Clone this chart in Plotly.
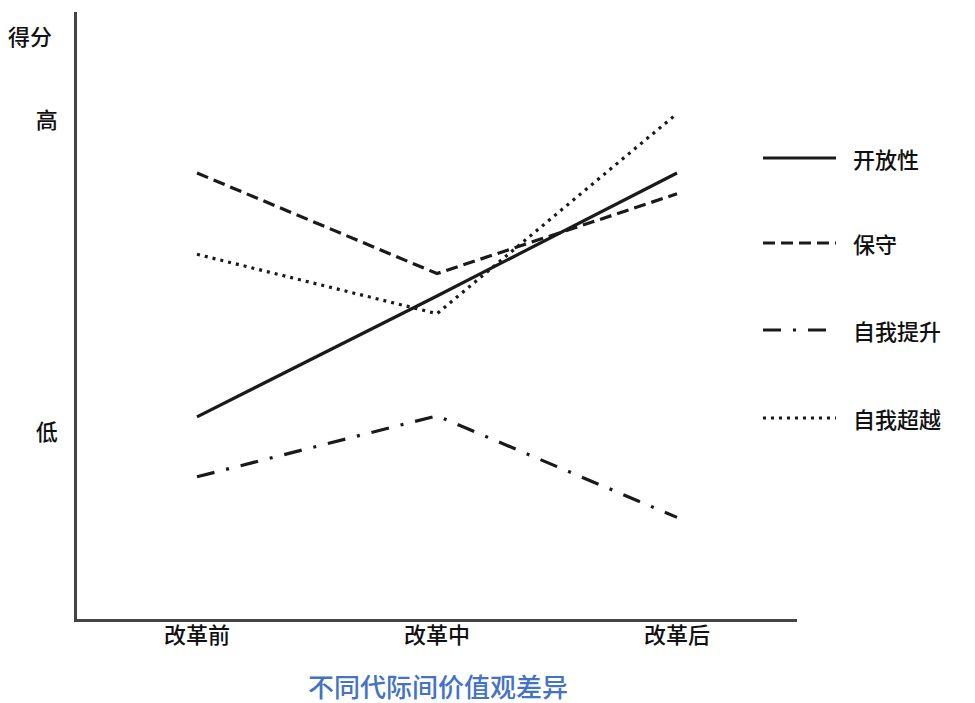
import plotly.graph_objects as go

# 数据
stages = ["改革前", "改革中", "改革后"]
openness = [2.30, 4.62, 6.98]
conservation = [6.98, 5.05, 6.58]
self_enhance = [1.15, 2.32, 0.37]
self_transcend = [5.42, 4.28, 8.12]

series_names = ["开放性", "保守", "自我提升", "自我超越"]
series_values = [openness, conservation, self_enhance, self_transcend]

y_tick_vals = [2, 8]
y_tick_text = ["低", "高"]

FONT = "Noto Sans CJK SC, Noto Sans, sans-serif"
W, H = 975, 703
L, R, T, B = 77, 797, 12, 619

dash_styles = ["solid", "12px,6px", "18px,12px,3px,12px", "3px,5px"]


def px(x, y):
    # pixel -> paper coordinates
    return (x - L) / (R - L), (B - y) / (B - T)


fig = go.Figure()

for name, vals, dash in zip(series_names, series_values, dash_styles):
    fig.add_trace(go.Scatter(
        x=[0, 1, 2], y=vals, mode="lines", name=name,
        line=dict(color="#1a1a1a", width=3.2, dash=dash),
        showlegend=False,
    ))

# 图例 (手工绘制，线段更长、间距更大)
legend_y = [158, 243, 330, 418]
for name, dash, ly in zip(series_names, dash_styles, legend_y):
    x0, y0 = px(763, ly)
    x1, _ = px(836, ly)
    fig.add_shape(type="line", xref="paper", yref="paper",
                  x0=x0, x1=x1, y0=y0, y1=y0,
                  line=dict(color="#1a1a1a", width=3.2, dash=dash))
    tx, _ = px(851, ly)
    fig.add_annotation(text=name, xref="paper", yref="paper", x=tx, y=y0,
                       xanchor="left", yanchor="middle", showarrow=False,
                       font=dict(family=FONT, size=22, color="#111", weight=500))

# 纵轴标题
ax, ay = px(30, 35)
fig.add_annotation(text="得分", xref="paper", yref="paper", x=ax, y=ay,
                   xanchor="center", yanchor="middle", showarrow=False,
                   font=dict(family=FONT, size=22, color="#111", weight=500))

# 图题
bx, by = px(438, 685)
fig.add_annotation(text="不同代际间价值观差异", xref="paper", yref="paper",
                   x=bx, y=by, xanchor="center", yanchor="middle", showarrow=False,
                   font=dict(family=FONT, size=26, color="#4472C4", weight=500))

fig.update_layout(
    width=W, height=H,
    margin=dict(l=L, r=W - R, t=T, b=H - B, pad=0),
    plot_bgcolor="white", paper_bgcolor="white",
    showlegend=False,
    xaxis=dict(
        range=[-0.5, 2.5], tickmode="array", tickvals=[0, 1, 2], ticktext=stages,
        showline=True, linecolor="#444", linewidth=2.5, showgrid=False,
        zeroline=False, ticks="", ticklabelstandoff=-5,
        tickfont=dict(family=FONT, size=22, color="#111", weight=500),
    ),
    yaxis=dict(
        range=[-1.58, 10.07], tickmode="array", tickvals=y_tick_vals,
        ticktext=y_tick_text,
        showline=True, linecolor="#444", linewidth=2.5, showgrid=False,
        zeroline=False, ticks="", ticklabelstandoff=12,
        tickfont=dict(family=FONT, size=22, color="#111", weight=500),
    ),
)

fig.write_html("out.html", config={"displayModeBar": False},
               post_script="document.body.style.margin='0px';")
